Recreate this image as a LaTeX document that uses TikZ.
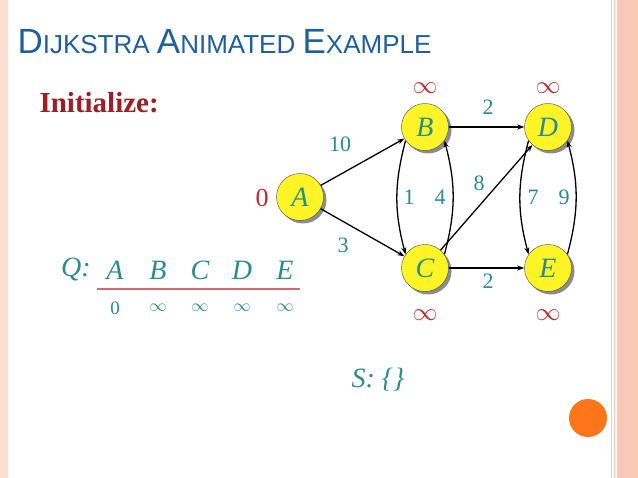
\documentclass[tikz,border=0pt]{standalone}
\usepackage{fontspec}
\setsansfont{Liberation Sans}
\setmainfont{Liberation Serif}
\usetikzlibrary{arrows.meta,shadows}
\definecolor{teal2}{HTML}{2A8C8C}
\definecolor{inf}{HTML}{C0282E}
\definecolor{ttl}{HTML}{1F5F9E}
\definecolor{salm}{HTML}{F9C9B6}
\begin{document}
\begin{tikzpicture}[x=1pt,y=-1pt,
  vert/.style={circle,draw=black!70,fill=yellow!85!white,minimum size=47pt,inner sep=0pt,
    font=\fontsize{28}{28}\selectfont\itshape,text=teal2,drop shadow={shadow xshift=3pt,shadow yshift=-3pt,fill=black!45,opacity=1}},
  lab/.style={text=teal2,font=\fontsize{22}{22}\selectfont},
  infl/.style={text=inf,font=\fontsize{26}{26}\selectfont},
  edge/.style={-{Stealth[length=7pt,width=5pt]},line width=1.3pt}]
\useasboundingbox (0,0) rectangle (638,478);
\fill[white] (0,0) rectangle (638,478);
\fill[salm!60] (0,0) rectangle (8,478);
\fill[salm] (617,0) rectangle (638,478);
\draw[salm,line width=1pt] (611,0) -- (611,478);
\draw[salm,line width=1pt] (614.5,0) -- (614.5,478);
\node[anchor=west,text=ttl,font=\sffamily\fontsize{35}{35}\selectfont] (title) at (14,42)
  {D\fontsize{26}{26}\selectfont IJKSTRA \fontsize{35}{35}\selectfont A\fontsize{26}{26}\selectfont NIMATED \fontsize{35}{35}\selectfont E\fontsize{26}{26}\selectfont XAMPLE};
\node[anchor=west,text=inf!80!black,font=\bfseries\fontsize{29}{29}\selectfont] (init) at (36,103) {Initialize:};
\node[vert] (A) at (300,197) {A};
\node[vert] (B) at (425,127) {B};
\node[vert] (C) at (425,268) {C};
\node[vert] (D) at (548,127) {D};
\node[vert] (E) at (548,268) {E};
\draw[edge] (A) -- (B);
\draw[edge] (A) -- (C);
\draw[edge] (B) -- (D);
\draw[edge] (C) -- (E);
\draw[edge] (C) -- (D);
\draw[edge] (B.215) to[bend right=15] (C.145);
\draw[edge] (C.35) to[bend right=15] (B.325);
\draw[edge] (D.215) to[bend right=15] (E.145);
\draw[edge] (E.35) to[bend right=15] (D.325);
\node[lab] (l10) at (340,144) {10};
\node[lab] (l3) at (343,245) {3};
\node[lab] (l2a) at (488,107) {2};
\node[lab] (l2b) at (488,281) {2};
\node[lab] (l1) at (409,197) {1};
\node[lab] (l4) at (440,197) {4};
\node[lab] (l8) at (479,183) {8};
\node[lab] (l7) at (533,197) {7};
\node[lab] (l9) at (564,197) {9};
\node[infl] (a0) at (262,198) {0};
\node[infl] (iB) at (425,88) {$\infty$};
\node[infl] (iD) at (548,88) {$\infty$};
\node[infl] (iC) at (425,315) {$\infty$};
\node[infl] (iE) at (548,315) {$\infty$};
\begin{scope}[every node/.style={text=teal2,font=\itshape\fontsize{28}{28}\selectfont}]
\node (Q) at (76,270) {Q:};
\node (qA) at (115,270) {A};
\node (qB) at (158,270) {B};
\node (qC) at (200,270) {C};
\node (qD) at (242,270) {D};
\node (qE) at (285,270) {E};
\node (S) at (378,380) {S: \{\}};
\end{scope}
\draw[inf!70,line width=2.5pt] (97,289) -- (300,289);
\begin{scope}[every node/.style={text=teal2,font=\fontsize{19}{19}\selectfont}]
\node (dA) at (115,308) {0};
\node (dB) at (158,308) {$\infty$};
\node (dC) at (200,308) {$\infty$};
\node (dD) at (242,308) {$\infty$};
\node (dE) at (285,308) {$\infty$};
\end{scope}
\fill[orange!80!red!90] (588,418) circle (19);
\end{tikzpicture}
\end{document}
